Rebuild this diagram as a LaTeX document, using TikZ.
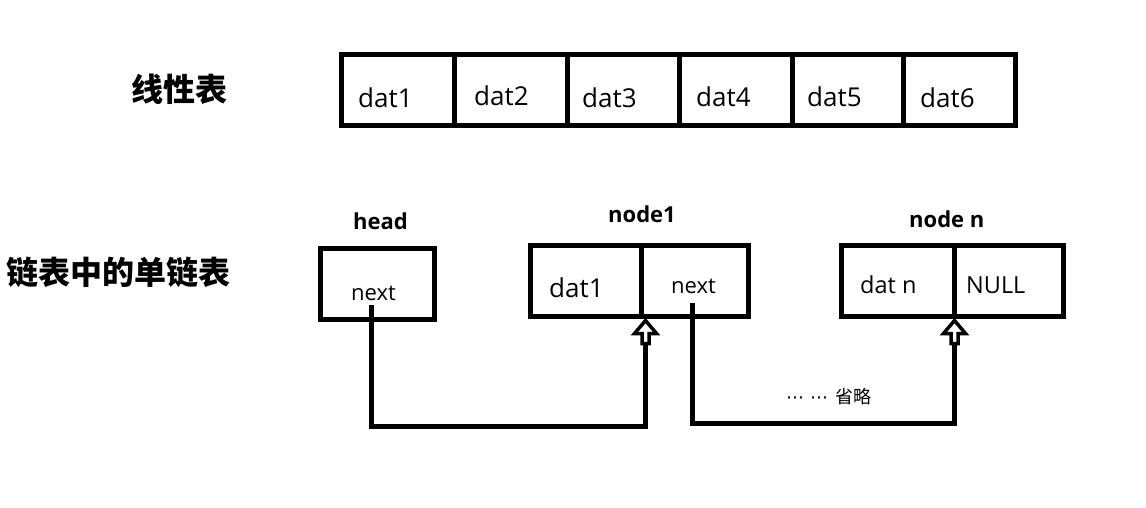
\documentclass[tikz,border=0pt]{standalone}
\usepackage{fontspec}
\setmainfont{Open Sans}
\newfontfamily\cjk{Noto Sans CJK SC}
\newfontfamily\dv{DejaVu Sans}
\usetikzlibrary{calc}
\tikzset{
  cell/.style={draw=black, line width=5pt, fill=white, inner sep=0pt, minimum height=71pt},
  txt/.style={anchor=base west, inner sep=0pt, font=\fontsize{26}{26}\selectfont},
  ntxt/.style={anchor=base west, inner sep=0pt, font=\fontsize{22}{22}\selectfont},
  stxt/.style={anchor=base west, inner sep=0pt, font=\fontsize{23.5}{24}\selectfont},
  lbl/.style={anchor=base west, inner sep=0pt, font=\fontsize{22}{22}\selectfont\bfseries},
  title/.style={anchor=base west, inner sep=0pt, font=\fontsize{32}{32}\selectfont\cjk\bfseries},
  link/.style={draw=black, line width=5pt},
  hollow/.style={draw=black, line width=3.5pt, fill=white, line join=miter},
}
\begin{document}
\begin{tikzpicture}[x=1pt,y=-1pt]
\useasboundingbox[fill=white] (0,0) rectangle (1146,508);

% titles
\node[title] (t1) at (131,102) {线性表};
\node[title] (t2) at (6,284) {链表中的单链表};

% linear table
\node[cell, minimum width=113pt] (c1) at (397.5,90.5) {};
\node[cell, minimum width=113pt] (c2) at (510.5,90.5) {};
\node[cell, minimum width=112pt] (c3) at (623,90.5) {};
\node[cell, minimum width=113pt] (c4) at (735.5,90.5) {};
\node[cell, minimum width=111pt] (c5) at (847.5,90.5) {};
\node[cell, minimum width=112pt] (c6) at (959,90.5) {};
\node[txt] (d1) at (358,108) {dat1};
\node[txt] (d2) at (474,106) {dat2};
\node[txt] (d3) at (582,108) {dat3};
\node[txt] (d4) at (696,107) {dat4};
\node[txt] (d5) at (807,107) {dat5};
\node[txt] (d6) at (920,108) {dat6};

% head
\node[lbl] (hl) at (353,229) {head};
\node[cell, minimum width=114pt] (head) at (377,283.5) {};
\node[ntxt] (hnext) at (351,300) {next};

% node1
\node[lbl] (n1l) at (608,222) {node1};
\node[cell, minimum width=111pt] (n1a) at (585.5,280.5) {};
\node[cell, minimum width=107pt] (n1b) at (694.5,280.5) {};
\node[txt] (n1d) at (549,297) {dat1};
\node[ntxt] (n1n) at (671,293) {next};

% node n
\node[lbl] (nnl) at (909,227) {node n};
\node[cell, minimum width=113pt] (nna) at (897.5,280.5) {};
\node[cell, minimum width=109pt] (nnb) at (1008.5,280.5) {};
\node[stxt] (nnd) at (860,293) {dat n};
\node[stxt] (nnn) at (966,293) {NULL};

% connectors
\draw[link] ([xshift=-2pt,yshift=-5pt]hnext.south) |- ([xshift=2pt,yshift=-108pt]n1a.south east) -- ([xshift=2pt,yshift=-25pt]n1a.south east);
\draw[hollow] ([xshift=2pt,yshift=-2pt]n1a.south east) -- ++(11,13) -- ++(-7.5,0) -- ++(0,10) -- ++(-7,0) -- ++(0,-10) -- ++(-7.5,0) -- cycle;

\draw[link] ([xshift=-1pt,yshift=-10pt]n1n.south) |- ([xshift=-2pt,yshift=-105pt]nna.south east) -- ([xshift=-2pt,yshift=-25pt]nna.south east);
\draw[hollow] ([xshift=-2pt,yshift=-2pt]nna.south east) -- ++(11,13) -- ++(-7.5,0) -- ++(0,10) -- ++(-7,0) -- ++(0,-10) -- ++(-7.5,0) -- cycle;

\node[anchor=base west, inner sep=0pt, font=\fontsize{18}{18}\selectfont] (omit) at (786,403) {{\dv ⋯}\hspace{6pt}{\dv ⋯}\hspace{7pt}{\cjk 省略}};
\end{tikzpicture}
\end{document}
